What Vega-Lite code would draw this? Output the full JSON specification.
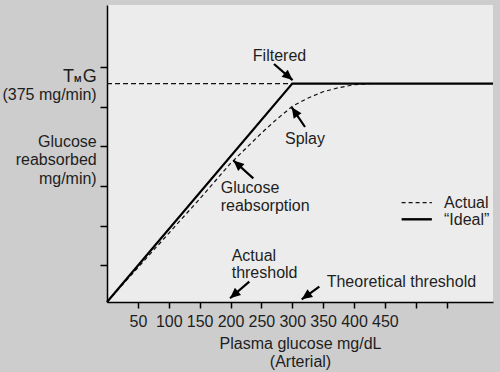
{
  "$schema": "https://vega.github.io/schema/vega-lite/v6.json",
  "width": 386,
  "height": 297,
  "autosize": {"type": "none"},
  "padding": {"left": 107, "top": 5, "right": 7, "bottom": 70},
  "background": "#cdcdcd",
  "config": {
    "view": {"stroke": null, "fill": "#ececec"},
    "font": "Liberation Sans",
    "text": {"font": "Liberation Sans", "fontSize": 16, "color": "#1e1e1e"}
  },
  "datasets": {
    "curves": [
      {"series": "Actual", "x": 0, "y": 0},
      {"series": "Actual", "x": 50, "y": 59},
      {"series": "Actual", "x": 100, "y": 118},
      {"series": "Actual", "x": 150, "y": 177},
      {"series": "Actual", "x": 200, "y": 238},
      {"series": "Actual", "x": 225, "y": 264},
      {"series": "Actual", "x": 250, "y": 290},
      {"series": "Actual", "x": 275, "y": 314},
      {"series": "Actual", "x": 300, "y": 336},
      {"series": "Actual", "x": 325, "y": 350},
      {"series": "Actual", "x": 350, "y": 361},
      {"series": "Actual", "x": 375, "y": 368},
      {"series": "Actual", "x": 400, "y": 373},
      {"series": "Actual", "x": 425, "y": 375},
      {"series": "Ideal", "x": 0, "y": 0},
      {"series": "Ideal", "x": 300, "y": 375},
      {"series": "Ideal", "x": 625, "y": 375}
    ],
    "arrows": [
      {"name": "Filtered", "x": 300.5, "y": 381, "x2": 270.4, "y2": 408.7},
      {"name": "Splay", "x": 299.1, "y": 334.3, "x2": 320.6, "y2": 300.5},
      {"name": "Glucose reabsorption", "x": 204.8, "y": 243.0, "x2": 236.9, "y2": 212.4},
      {"name": "Actual threshold", "x": 199.2, "y": 6.4, "x2": 230.4, "y2": 34.9},
      {"name": "Theoretical threshold", "x": 315.3, "y": 4.6, "x2": 343.8, "y2": 26.3}
    ]
  },
  "encoding": {
    "x": {
      "field": "x",
      "type": "quantitative",
      "scale": {"domain": [0, 625], "nice": false, "zero": false},
      "axis": {
        "values": [50, 100, 150, 200, 250, 300, 350, 400, 450, 500, 550],
        "labelExpr": "datum.value <= 450 ? datum.label : ''",
        "grid": false,
        "domainColor": "#000000",
        "domainWidth": 1.5,
        "tickColor": "#000000",
        "tickWidth": 1.5,
        "tickSize": 6,
        "labelFont": "Liberation Sans",
        "labelFontSize": 16,
        "labelColor": "#1e1e1e",
        "labelPadding": 5,
        "labelFlush": false,
        "labelOverlap": false,
        "title": ["Plasma glucose mg/dL", "(Arterial)"],
        "titleFont": "Liberation Sans",
        "titleFontSize": 16,
        "titleFontWeight": "normal",
        "titleColor": "#1e1e1e",
        "titlePadding": 6,
        "titleLineHeight": 18.4
      }
    },
    "y": {
      "field": "y",
      "type": "quantitative",
      "scale": {"domain": [0, 510], "nice": false, "zero": false},
      "axis": {
        "values": [63, 131, 200, 268, 335, 404],
        "labels": false,
        "title": null,
        "grid": false,
        "domainColor": "#000000",
        "domainWidth": 1.5,
        "tickColor": "#000000",
        "tickWidth": 1.5,
        "tickSize": 7
      }
    }
  },
  "layer": [
    {
      "data": {"name": "curves"},
      "transform": [{"filter": "datum.series == 'Actual'"}],
      "mark": {"type": "line", "color": "#111111", "strokeDash": [4, 3], "strokeWidth": 1.2},
      "encoding": {}
    },
    {
      "data": {"values": [{"x": 0, "x2": 300, "y": 375}]},
      "mark": {"type": "rule", "color": "#111111", "strokeDash": [5, 3], "strokeWidth": 1.2},
      "encoding": {"x2": {"field": "x2"}}
    },
    {
      "data": {"name": "curves"},
      "transform": [{"filter": "datum.series == 'Ideal'"}],
      "mark": {"type": "line", "color": "#000000", "strokeWidth": 2.2},
      "encoding": {}
    },
    {
      "data": {"values": [{"x": 477, "x2": 526, "y": 170.5}]},
      "mark": {"type": "rule", "color": "#111111", "strokeDash": [4, 3], "strokeWidth": 1.3},
      "encoding": {"x2": {"field": "x2"}}
    },
    {
      "data": {"values": [{"x": 477, "x2": 526, "y": 142}]},
      "mark": {"type": "rule", "color": "#000000", "strokeWidth": 2.4},
      "encoding": {"x2": {"field": "x2"}}
    },
    {
      "data": {"values": [
        {"x": -16.7, "y": 347.7, "text": "(375 mg/min)"},
        {"x": -16.7, "y": 266.7, "text": "Glucose"},
        {"x": -16.7, "y": 235.8, "text": "reabsorbed"},
        {"x": -16.7, "y": 203.1, "text": "mg/min)"}
      ]},
      "mark": {"type": "text", "align": "right", "baseline": "alphabetic"},
      "encoding": {"text": {"field": "text"}}
    },
    {
      "data": {"values": [{"x": -53.4, "y": 378.3, "text": "T"}]},
      "mark": {"type": "text", "align": "right", "baseline": "alphabetic", "fontSize": 18},
      "encoding": {"text": {"field": "text"}}
    },
    {
      "data": {"values": [{"x": -53.4, "y": 377.8, "text": "M"}]},
      "mark": {"type": "text", "align": "left", "baseline": "alphabetic", "fontSize": 9, "fontWeight": "bold"},
      "encoding": {"text": {"field": "text"}}
    },
    {
      "data": {"values": [{"x": -39.3, "y": 378.3, "text": "G"}]},
      "mark": {"type": "text", "align": "left", "baseline": "alphabetic", "fontSize": 18},
      "encoding": {"text": {"field": "text"}}
    },
    {
      "data": {"values": [
        {"x": 279.3, "y": 414.4, "text": "Filtered"},
        {"x": 320.6, "y": 270.5, "text": "Splay"}
      ]},
      "mark": {"type": "text", "align": "center", "baseline": "alphabetic"},
      "encoding": {"text": {"field": "text"}}
    },
    {
      "data": {"values": [
        {"x": 184.1, "y": 186.5, "text": "Glucose"},
        {"x": 184.1, "y": 156.8, "text": "reabsorption"},
        {"x": 201.9, "y": 70.9, "text": "Actual"},
        {"x": 201.9, "y": 40.7, "text": "threshold"},
        {"x": 355.7, "y": 25.1, "text": "Theoretical threshold"},
        {"x": 545.7, "y": 160.7, "text": "Actual"},
        {"x": 545.7, "y": 132.2, "text": "“Ideal”"}
      ]},
      "mark": {"type": "text", "align": "left", "baseline": "alphabetic"},
      "encoding": {"text": {"field": "text"}}
    },
    {
      "data": {"name": "arrows"},
      "mark": {"type": "rule", "color": "#000000", "strokeWidth": 2.2},
      "encoding": {"x2": {"field": "x2"}, "y2": {"field": "y2"}}
    },
    {
      "data": {"name": "arrows"},
      "transform": [
        {"calculate": "atan2((datum.x - datum.x2) * 0.6176, (datum.y - datum.y2) * 0.58235) * 180 / PI", "as": "angle"}
      ],
      "mark": {"type": "point", "shape": "M0,0L-0.9,2L0.9,2Z", "filled": true, "color": "#000000", "opacity": 1, "size": 110},
      "encoding": {"angle": {"field": "angle", "type": "quantitative", "scale": null}}
    }
  ]
}
